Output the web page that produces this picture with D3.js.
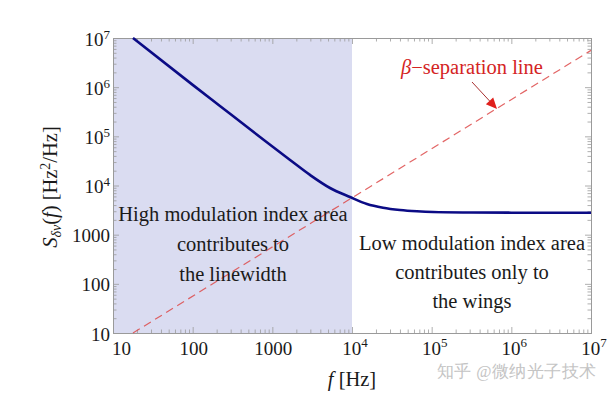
<!DOCTYPE html>
<html><head><meta charset="utf-8">
<script src="https://cdn.jsdelivr.net/npm/d3@7"></script>
<style>
html,body{margin:0;padding:0;background:#fff;}
svg text{font-family:"Liberation Serif","DejaVu Serif",serif;}
</style></head>
<body><svg id="c" width="612" height="397"></svg>
<script>
// ---- data ----
const curveF = [17.8, 101, 220, 700, 1670, 2970, 5300, 9440, 15400, 24500, 40000, 65400, 104000, 302000, 1e6, 1e7];
const curveS = [1e7, 1.1e6, 4.14e5, 9.7e4, 3.3e4, 1.64e4, 8.9e3, 5.83e3, 4.21e3, 3.54e3, 3.18e3, 2.99e3, 2.89e3, 2.825e3, 2.8e3, 2.8e3];
const betaF = [17.8, 1e7];
const betaS = [10, 5.6e6];
const shadeF = [10, 1e4];
const tickValues = [10, 100, 1000, 1e4, 1e5, 1e6, 1e7];
const tickBase = ["10", "100", "1000", "10", "10", "10", "10"];
const tickExp = ["", "", "", "4", "5", "6", "7"];
const highText = ["High modulation index area", "contributes to", "the linewidth"];
const lowText = ["Low modulation index area", "contributes only to", "the wings"];
const betaLabel = "separation line";
const watermark = "知乎 @微纳光子技术";

// ---- layout ----
const L = 113, R = 591, T = 38, B = 333;
const svg = d3.select("#c");
const x = d3.scaleLog().domain([10, 1e7]).range([L, R]);
const y = d3.scaleLog().domain([10, 1e7]).range([B, T]);

// shaded area
svg.append("rect")
  .attr("x", x(shadeF[0])).attr("y", T)
  .attr("width", x(shadeF[1]) - x(shadeF[0])).attr("height", B - T)
  .attr("fill", "#dadcf1");

// minor tick values
const minor = [];
for (let e = 1; e < 7; e++) for (let m = 2; m <= 9; m++) minor.push(m * Math.pow(10, e));

function axisGroup(axisFn, scale, transform) {
  const gMaj = svg.append("g").attr("transform", transform)
    .call(axisFn(scale).tickValues(tickValues).tickSize(-6).tickFormat(""));
  const gMin = svg.append("g").attr("transform", transform)
    .call(axisFn(scale).tickValues(minor).tickSize(-3.5).tickFormat(""));
  [gMaj, gMin].forEach(g => {
    g.selectAll("path").attr("stroke", "#9a9a9a").attr("stroke-width", 1);
    g.selectAll("line").attr("stroke", "#9a9a9a").attr("stroke-width", 0.8);
  });
}
axisGroup(d3.axisBottom, x, `translate(0,${B})`);
axisGroup(d3.axisTop, x, `translate(0,${T})`);
axisGroup(d3.axisLeft, y, `translate(${L},0)`);
axisGroup(d3.axisRight, y, `translate(${R},0)`);

// beta separation line
const line = d3.line().x(d => x(d[0])).y(d => y(d[1]));
svg.append("path")
  .datum(betaF.map((f, i) => [f, betaS[i]]))
  .attr("d", line)
  .attr("fill", "none").attr("stroke", "#dd4a4a").attr("stroke-opacity", 0.85)
  .attr("stroke-width", 1.2).attr("stroke-dasharray", "8,5");

// main curve
svg.append("path")
  .datum(curveF.map((f, i) => [f, curveS[i]]))
  .attr("d", line.curve(d3.curveMonotoneX))
  .attr("fill", "none").attr("stroke", "#0b0b85").attr("stroke-width", 2.6);

// tick labels
const fs = 19, fsText = 20.5;
tickValues.forEach((v, i) => {
  const tx = svg.append("text")
    .attr("y", 355).attr("font-size", fs).attr("fill", "#1a1a1a");
  if (i === 0) tx.attr("x", x(v) - 1).attr("text-anchor", "start");
  else tx.attr("x", x(v) + (tickExp[i] ? 3 : 1)).attr("text-anchor", "middle");
  tx.append("tspan").text(tickBase[i]);
  if (tickExp[i]) tx.append("tspan").attr("font-size", 13).attr("dy", -8).text(tickExp[i]);

  const ty = svg.append("text")
    .attr("x", 110).attr("y", y(v) + 7.5).attr("text-anchor", "end")
    .attr("font-size", fs).attr("fill", "#1a1a1a");
  ty.append("tspan").text(tickBase[i]);
  if (tickExp[i]) ty.append("tspan").attr("font-size", 13).attr("dy", -7).text(tickExp[i]);
});

// x axis title
const xt = svg.append("text").attr("x", 352).attr("y", 386)
  .attr("text-anchor", "middle").attr("font-size", fsText).attr("fill", "#1a1a1a");
xt.append("tspan").attr("font-style", "italic").text("f");
xt.append("tspan").text(" [Hz]");

// y axis title
const yt = svg.append("text")
  .attr("transform", "translate(57,187) rotate(-90)")
  .attr("text-anchor", "middle").attr("font-size", fsText).attr("fill", "#1a1a1a");
yt.append("tspan").attr("font-style", "italic").text("S");
yt.append("tspan").attr("font-style", "italic").attr("font-size", 14).attr("dy", 4).text("δν");
yt.append("tspan").attr("dy", -4).text("(");
yt.append("tspan").attr("font-style", "italic").text("f");
yt.append("tspan").text(") [Hz");
yt.append("tspan").attr("font-size", 14).attr("dy", -7).text("2");
yt.append("tspan").attr("dy", 7).text("/Hz]");

// region texts
highText.forEach((t, i) => {
  svg.append("text").attr("x", 233).attr("y", 221 + i * 30)
    .attr("text-anchor", "middle").attr("font-size", fsText).attr("fill", "#1a1a1a").text(t);
});
lowText.forEach((t, i) => {
  svg.append("text").attr("x", 472).attr("y", 250 + i * 29)
    .attr("text-anchor", "middle").attr("font-size", fsText).attr("fill", "#1a1a1a").text(t);
});

// beta label
const bl = svg.append("text").attr("x", 401).attr("y", 74)
  .attr("font-size", fsText).attr("fill", "#d42424");
bl.append("tspan").attr("font-style", "italic").text("β");
bl.append("tspan").text("\u2212" + betaLabel);

// arrow
const ax0 = 472, ay0 = 82, ax1 = 497, ay1 = 109;
svg.append("line").attr("x1", ax0).attr("y1", ay0).attr("x2", ax1 - 6).attr("y2", ay1 - 6.5)
  .attr("stroke", "#a83030").attr("stroke-width", 1);
const ang = Math.atan2(ay1 - ay0, ax1 - ax0);
const hl = 11, hw = 5;
const bx = ax1 - hl * Math.cos(ang), by = ay1 - hl * Math.sin(ang);
svg.append("path")
  .attr("d", `M${ax1},${ay1} L${bx - hw * Math.sin(ang)},${by + hw * Math.cos(ang)} L${bx + hw * Math.sin(ang)},${by - hw * Math.cos(ang)} Z`)
  .attr("fill", "#e0201c");

// watermark
svg.append("text").attr("x", 597).attr("y", 377).attr("text-anchor", "end")
  .attr("font-family", "Noto Sans CJK SC").attr("font-size", 16.5)
  .attr("fill", "#c4c4c4").attr("letter-spacing", 0.5).text(watermark);
</script>
</body></html>
